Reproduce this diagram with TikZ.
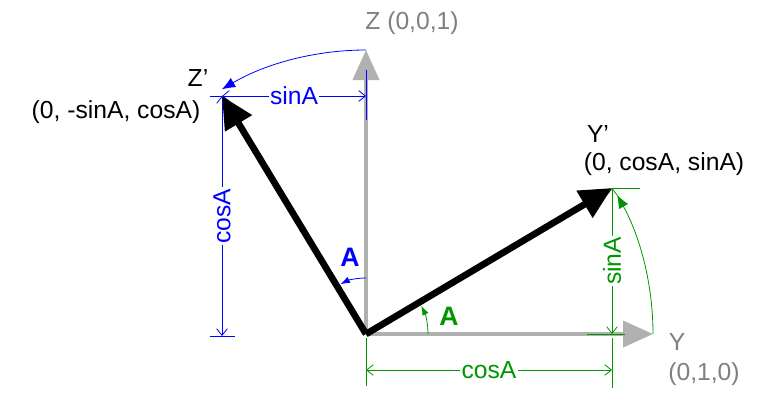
\documentclass[tikz,border=0pt]{standalone}
\usepackage{fontspec}
\setmainfont{Liberation Sans}
\usetikzlibrary{arrows.meta}
\definecolor{gr}{RGB}{0,150,0}
\definecolor{bl}{RGB}{0,0,255}
\definecolor{ax}{RGB}{176,176,176}
\definecolor{tx}{RGB}{128,128,128}
\begin{document}
\begin{tikzpicture}[x=0.75pt,y=-0.75pt,
  lbl/.style={font=\fontsize{18.5}{20}\selectfont,inner sep=0pt},
  blbl/.style={font=\fontsize{20}{22}\selectfont\bfseries,inner sep=0pt},
  axis/.style={ax,line width=3pt,-{Triangle[length=30pt*0.75,width=26pt*0.75]}},
  vec/.style={black,line width=5pt,-{Triangle[length=32pt*0.75,width=30pt*0.75]}},
  dim/.style={line width=0.6pt,{Straight Barb[length=5pt,width=8pt]}-{Straight Barb[length=5pt,width=8pt]}},
  hair/.style={line width=0.6pt}]
\useasboundingbox (0,0) rectangle (780,400);
\coordinate (O) at (366,334);
\coordinate (Z) at (366,50);
\coordinate (Y) at (653,334);
\coordinate (Zp) at (222,96);
\coordinate (Yp) at (612,188);
\draw[axis] (O) -- (Z);
\draw[axis] (O) -- (Y);
% blue
\draw[bl,hair,-{Latex[length=10pt,width=8pt]}] (Z) arc[start angle=-90,end angle=-120.5,radius=284];
\draw[bl,hair] (366,70) -- (366,120);
\draw[bl,hair] (210,96) -- (222,96);
\draw[bl,dim] (Zp) -- node[lbl,fill=white,inner sep=1pt] (sz) {sinA} (366,96);
\draw[bl,hair] (210,336) -- (235,336);
\draw[bl,dim] (Zp) -- node[lbl,fill=white,inner sep=1pt,rotate=90] (cz) {cosA} (222,336);
\draw[bl,hair,-{Latex[length=7pt,width=5pt]}] (366,278) arc[start angle=-90,end angle=-117,radius=56];
\node[blbl,bl] (Ab) at (350,257) {A};
% green
\draw[gr,hair,-{Latex[length=10pt,width=8pt]}] (Y) arc[start angle=0,end angle=-29,radius=287];
\draw[gr,hair,-{Latex[length=7pt,width=5pt]}] (428,334) arc[start angle=0,end angle=-27,radius=62];
\node[blbl,gr] (Ag) at (449,316) {A};
\draw[gr,hair] (366,338) -- (366,386);
\draw[gr,hair] (612,338) -- (612,388);
\draw[gr,dim] (366,370) -- node[lbl,fill=white,inner sep=1pt] (cy) {cosA} (612,370);
\draw[gr,hair] (612,188) -- (640,188);
\draw[gr,hair] (587,334) -- (625,334);
\draw[gr,dim] (Yp) -- node[lbl,fill=white,inner sep=1pt,rotate=90] (sy) {sinA} (612,334);
\draw[vec] (O) -- (Zp);
\draw[vec] (O) -- (Yp);
% texts
\node[lbl,tx] (zl) at (412,23) {Z (0,0,1)};
\node[lbl] (zpl) at (198,78) {Z’};
\node[lbl] (zpc) at (116,112) {(0, -sinA, cosA)};
\node[lbl] (ypl) at (598,134) {Y’};
\node[lbl] (ypc) at (664,164) {(0, cosA, sinA)};
\node[lbl,tx] (yl) at (677,342) {Y};
\node[lbl,tx] (yc) at (704,374) {(0,1,0)};
\end{tikzpicture}
\end{document}
